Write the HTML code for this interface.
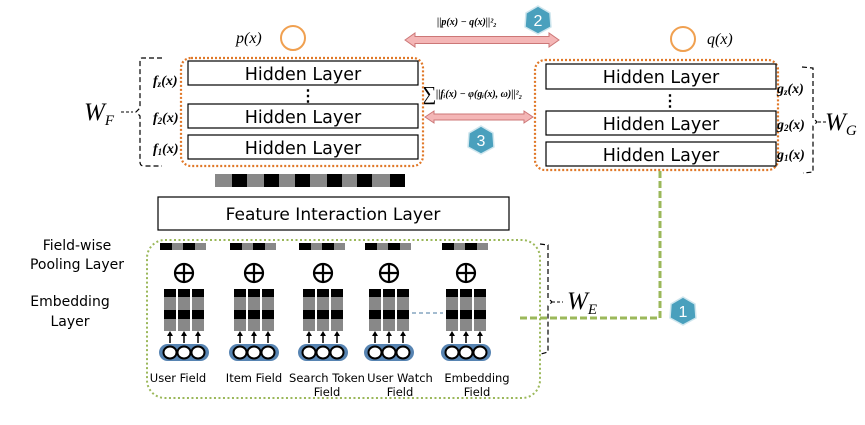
<!DOCTYPE html>
<html><head><meta charset="utf-8"><style>
body{margin:0;background:#fff;width:865px;height:425px;overflow:hidden}
svg{display:block}
.hl{font-family:"DejaVu Sans","Liberation Sans",sans-serif;font-size:17.5px;text-anchor:middle}
.m{font-family:"Liberation Serif",serif;font-style:italic;font-weight:bold;font-size:14px}
.s{font-family:"DejaVu Sans","Liberation Sans",sans-serif;font-size:11.5px;text-anchor:middle}
.l{font-family:"DejaVu Sans","Liberation Sans",sans-serif;font-size:14px;text-anchor:middle}
</style></head><body>
<svg width="865" height="425" viewBox="0 0 865 425" xmlns="http://www.w3.org/2000/svg">
<defs>
<g id="col">
 <rect x="0" y="0" width="12" height="42" fill="#888"/>
 <rect x="0" y="0" width="12" height="8" fill="#000"/><rect x="0" y="21" width="12" height="9" fill="#000"/>
</g>
<g id="fld">
 <rect x="-24" y="0" width="12" height="7" fill="#000"/><rect x="-12" y="0" width="11" height="7" fill="#888"/>
 <rect x="-1" y="0" width="12" height="7" fill="#000"/><rect x="11" y="0" width="11" height="7" fill="#888"/>
 <circle cx="0" cy="30" r="9" fill="none" stroke="#000" stroke-width="2.2"/>
 <line x1="-9" y1="30" x2="9" y2="30" stroke="#000" stroke-width="2.2"/><line x1="0" y1="21" x2="0" y2="39" stroke="#000" stroke-width="2.2"/>
 <use href="#col" x="-20" y="46"/><use href="#col" x="-6" y="46"/><use href="#col" x="8" y="46"/>
 <g stroke="#000" stroke-width="1.5"><line x1="-14" y1="100" x2="-14" y2="92"/><line x1="0" y1="100" x2="0" y2="92"/><line x1="14" y1="100" x2="14" y2="92"/></g>
 <g fill="#000"><path d="M-17,93 L-14,88 L-11,93Z"/><path d="M-3,93 L0,88 L3,93Z"/><path d="M11,93 L14,88 L17,93Z"/></g>
 <rect x="-25" y="101" width="50" height="17" rx="8.5" fill="#3a6ea5" opacity="0.85"/>
 <g fill="#fff" stroke="#000" stroke-width="2"><ellipse cx="-14" cy="109.5" rx="6.5" ry="6"/><ellipse cx="0" cy="109.5" rx="6.5" ry="6"/><ellipse cx="14" cy="109.5" rx="6.5" ry="6"/></g>
</g>
<g id="hex"><polygon points="0,-14 12,-7 13,7 0,14 -13,7 -12,-7" fill="#4aa0bd" stroke="#cfe6ee" stroke-width="1.5"/></g>
</defs>

<text x="236" y="43" class="m" style="font-size:16px;font-weight:normal">p(x)</text>
<circle cx="293" cy="38" r="12" fill="none" stroke="#f0a050" stroke-width="2"/>
<text x="707" y="44" class="m" style="font-size:16px;font-weight:normal">q(x)</text>
<circle cx="683" cy="39" r="12" fill="none" stroke="#f0a050" stroke-width="2"/>

<text x="437" y="25" class="m" style="font-size:10px">||p(x) − q(x)||²₂</text>
<path d="M405,40 L415,33 L415,36.5 L549,36.5 L549,33 L559,40 L549,47 L549,43.5 L415,43.5 L415,47Z" fill="#f4b6b6" stroke="#c77" stroke-width="1"/>
<use href="#hex" x="538" y="20"/><text x="538" y="26" fill="#fff" font-family="Liberation Sans" font-size="16" text-anchor="middle">2</text>

<text x="422" y="100" font-family="Liberation Serif" font-size="20">∑</text>
<text x="436" y="97" class="m" style="font-size:10px">||fᵢ(x) − φ(gᵢ(x), ω)||²₂</text>
<path d="M425,117 L434,111 L434,114 L524,114 L524,111 L533,117 L524,123 L524,120 L434,120 L434,123Z" fill="#f4b6b6" stroke="#c77" stroke-width="1"/>
<use href="#hex" x="481" y="140"/><text x="481" y="146" fill="#fff" font-family="Liberation Sans" font-size="16" text-anchor="middle">3</text>

<rect x="181" y="58" width="242" height="108" rx="10" fill="none" stroke="#e07828" stroke-width="2.2" stroke-dasharray="2,2"/>
<rect x="188" y="61" width="230" height="24" fill="#fff" stroke="#000" stroke-width="1.2"/>
<rect x="188" y="104" width="230" height="24" fill="#fff" stroke="#000" stroke-width="1.2"/>
<rect x="188" y="135" width="230" height="24" fill="#fff" stroke="#000" stroke-width="1.2"/>
<text x="303" y="80" class="hl">Hidden Layer</text>
<text x="303" y="123" class="hl">Hidden Layer</text>
<text x="303" y="154" class="hl">Hidden Layer</text>
<text x="308" y="101" font-family="Liberation Sans" font-weight="bold" font-size="16" text-anchor="middle">⋮</text>
<text x="153" y="85" class="m">f<tspan font-size="9" dy="2">z</tspan><tspan dy="-2">(x)</tspan></text>
<text x="153" y="122" class="m">f<tspan font-size="9" dy="2">2</tspan><tspan dy="-2">(x)</tspan></text>
<text x="153" y="153" class="m">f<tspan font-size="9" dy="2">1</tspan><tspan dy="-2">(x)</tspan></text>
<path d="M162,58 L142,58 Q140,58 140,62 L140,108 L136,112 L140,116 L140,162 Q140,166 144,166 L162,166" fill="none" stroke="#000" stroke-dasharray="5,3" stroke-width="1.2"/>
<text x="84" y="120" font-family="Liberation Serif" font-style="italic" font-size="25">W<tspan font-size="15" dy="5">F</tspan></text>
<line x1="121" y1="112" x2="133" y2="112" stroke="#000" stroke-dasharray="3,2"/>

<rect x="535" y="60" width="243" height="110" rx="10" fill="none" stroke="#e07828" stroke-width="2.2" stroke-dasharray="2,2"/>
<rect x="546" y="64" width="230" height="25" fill="#fff" stroke="#000" stroke-width="1.2"/>
<rect x="546" y="111" width="230" height="24" fill="#fff" stroke="#000" stroke-width="1.2"/>
<rect x="546" y="142" width="230" height="24" fill="#fff" stroke="#000" stroke-width="1.2"/>
<text x="661" y="83" class="hl">Hidden Layer</text>
<text x="661" y="130" class="hl">Hidden Layer</text>
<text x="661" y="161" class="hl">Hidden Layer</text>
<text x="670" y="106" font-family="Liberation Sans" font-weight="bold" font-size="16" text-anchor="middle">⋮</text>
<text x="777" y="93" class="m">g<tspan font-size="9" dy="2">z</tspan><tspan dy="-2">(x)</tspan></text>
<text x="777" y="129" class="m">g<tspan font-size="9" dy="2">2</tspan><tspan dy="-2">(x)</tspan></text>
<text x="777" y="159" class="m">g<tspan font-size="9" dy="2">1</tspan><tspan dy="-2">(x)</tspan></text>
<path d="M802,67 L813,68 L813,118 L817,122 L813,126 L813,172 L803,173" fill="none" stroke="#000" stroke-dasharray="5,3" stroke-width="1.2"/>
<line x1="818" y1="122" x2="826" y2="122" stroke="#000" stroke-dasharray="3,2"/>
<text x="825" y="130" font-family="Liberation Serif" font-style="italic" font-size="25">W<tspan font-size="15" dy="5">G</tspan></text>

<g>
<rect x="215" y="174" width="190" height="13" fill="#888"/>
<rect x="232" y="174" width="15" height="13" fill="#000"/><rect x="264" y="174" width="15" height="13" fill="#000"/>
<rect x="295" y="174" width="15" height="13" fill="#000"/><rect x="327" y="174" width="15" height="13" fill="#000"/>
<rect x="357" y="174" width="15" height="13" fill="#000"/><rect x="390" y="174" width="15" height="13" fill="#000"/>
</g>
<rect x="158" y="197" width="351" height="33" fill="#fff" stroke="#000" stroke-width="1.2"/>
<text x="333" y="220" class="hl" style="font-size:17px">Feature Interaction Layer</text>

<text x="77" y="250" class="l">Field-wise</text>
<text x="77" y="269" class="l">Pooling Layer</text>
<text x="70" y="306" class="l">Embedding</text>
<text x="70" y="326" class="l">Layer</text>

<rect x="147" y="240" width="393" height="158" rx="18" fill="none" stroke="#9bb85a" stroke-width="2" stroke-dasharray="2,2.5"/>
<use href="#fld" x="184" y="243"/>
<use href="#fld" x="254" y="243"/>
<use href="#fld" x="323" y="243"/>
<use href="#fld" x="389" y="243"/>
<use href="#fld" x="466" y="243"/>
<line x1="412" y1="313" x2="443" y2="313" stroke="#4a7aa0" stroke-dasharray="4,3"/>
<text x="178" y="382" class="s">User Field</text>
<text x="254" y="382" class="s">Item Field</text>
<text x="327" y="382" class="s">Search Token</text>
<text x="327" y="396" class="s">Field</text>
<text x="400" y="382" class="s">User  Watch</text>
<text x="400" y="396" class="s">Field</text>
<text x="477" y="382" class="s">Embedding</text>
<text x="477" y="396" class="s">Field</text>

<path d="M540,244 L548,245 L548,298 L552,302 L548,306 L548,352 L541,354" fill="none" stroke="#000" stroke-dasharray="5,3" stroke-width="1.2"/>
<line x1="552" y1="302" x2="563" y2="302" stroke="#000" stroke-dasharray="3,2"/>
<text x="567" y="309" font-family="Liberation Serif" font-style="italic" font-size="25">W<tspan font-size="15" dy="5">E</tspan></text>

<path d="M520,318 L660,318 L660,170" fill="none" stroke="#9bb85a" stroke-width="3" stroke-dasharray="7,3"/>
<use href="#hex" x="683" y="311"/><text x="683" y="317" fill="#fff" font-family="Liberation Sans" font-size="16" text-anchor="middle">1</text>
</svg>
</body></html>
